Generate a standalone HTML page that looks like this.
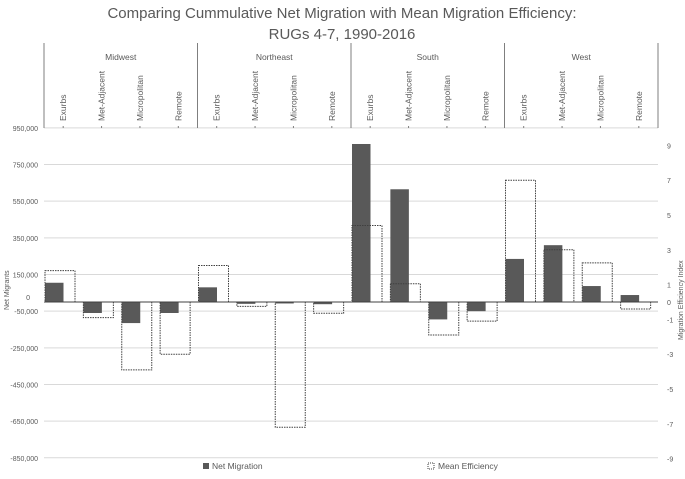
<!DOCTYPE html>
<html><head><meta charset="utf-8"><style>
body{margin:0;background:#fff;width:685px;height:474px;overflow:hidden}
text{font-family:"Liberation Sans",sans-serif;fill:#595959}
</style></head><body>
<svg id="c" width="685" height="474"></svg>
<script>
const regions=["Midwest","Northeast","South","West"];
const cats=["Exurbs","Met-Adjacent","Micropolitan","Remote"];
const netMigration=[105000,-60000,-115000,-60000, 80000,-10000,-8000,-12000, 862000,615000,-95000,-50000, 235000,310000,87000,38000];
const meanEfficiency=[1.8,-0.9,-3.9,-3.0, 2.1,-0.25,-7.2,-0.65, 4.4,1.05,-1.9,-1.1, 7.0,3.0,2.25,-0.4];
const leftTicks=[950000,750000,550000,350000,150000,-50000,-250000,-450000,-650000,-850000];
const rightTicks=[9,7,5,3,1,0,-1,-3,-5,-7,-9];
const NS="http://www.w3.org/2000/svg",svg=document.getElementById('c');
const X0=44,X1=658,Y0=302;
const yL=v=>Y0-v*0.0001833;
const yR=v=>Y0-v*17.4;
const cw=(X1-X0)/16;
function mk(t,a,p){const e=document.createElementNS(NS,t);for(const k in a)e.setAttribute(k,a[k]);(p||svg).appendChild(e);return e;}
let t=mk('text',{x:342,y:18,'text-anchor':'middle','font-size':15});t.textContent='Comparing Cummulative Net Migration with Mean Migration Efficiency:';


t=mk('text',{x:342,y:39,'text-anchor':'middle','font-size':15});t.textContent='RUGs 4-7, 1990-2016';


leftTicks.forEach(v=>{const y=yL(v);
 const g=mk('line',{x1:X0,x2:X1,y1:y,y2:y,stroke:'#d9d9d9','stroke-width':1});
 
 
 const l=mk('text',{x:38,y:y+3,'text-anchor':'end','font-size':7});l.textContent=v.toLocaleString('en-US');
 
 
});
let z=mk('text',{x:30,y:300,'text-anchor':'end','font-size':7});z.textContent='0';


rightTicks.forEach(v=>{const l=mk('text',{x:667,y:yR(v)+3,'font-size':7});l.textContent=v;
 
 
});
// header
for(let r=0;r<=4;r++){const x=X0+r*cw*4;const l=mk('line',{x1:x,x2:x,y1:43,y2:128,stroke:'#7f7f7f'});
 
 }
regions.forEach((r,i)=>{const l=mk('text',{x:X0+(i*4+2)*cw,y:60,'text-anchor':'middle','font-size':8.5});l.textContent=r;
 
 
 cats.forEach((c,j)=>{const x=X0+(i*4+j+0.5)*cw;
  const tl=mk('text',{transform:`translate(${x+3},121) rotate(-90)`,'font-size':8.5});tl.textContent=c;
  
  
  const tk=mk('line',{x1:x,x2:x,y1:126,y2:128,stroke:'#7f7f7f'});
  
  
 });});
// bars
netMigration.forEach((v,i)=>{const x=X0+i*cw+1;const y=yL(v);
 const b=mk('rect',{x:x,y:Math.min(y,Y0),width:18.5,height:Math.abs(Y0-y),fill:'#595959'});
 
 });
meanEfficiency.forEach((v,i)=>{const x=X0+i*cw+1;const y=yR(v);
 const b=mk('rect',{x:x,y:Math.min(y,Y0),width:30,height:Math.abs(Y0-y),fill:'none',stroke:'#404040','stroke-width':1,'stroke-dasharray':'1.5,1'});
 
 });
const zl=mk('line',{x1:X0,x2:X1,y1:Y0,y2:Y0,stroke:'#404040','stroke-width':1});


let a=mk('text',{transform:'translate(9,310) rotate(-90)','font-size':7});a.textContent='Net Migrants';


a=mk('text',{transform:'translate(683,340) rotate(-90)','font-size':7});a.textContent='Migration Efficiency Index';


// legend
let s=mk('rect',{x:203,y:463,width:6,height:6,fill:'#595959'});


a=mk('text',{x:212,y:469,'font-size':8.5});a.textContent='Net Migration';


s=mk('rect',{x:428,y:463,width:6,height:6,fill:'none',stroke:'#404040','stroke-dasharray':'1,1'});


a=mk('text',{x:438,y:469,'font-size':8.5});a.textContent='Mean Efficiency';


</script>
</body></html>
